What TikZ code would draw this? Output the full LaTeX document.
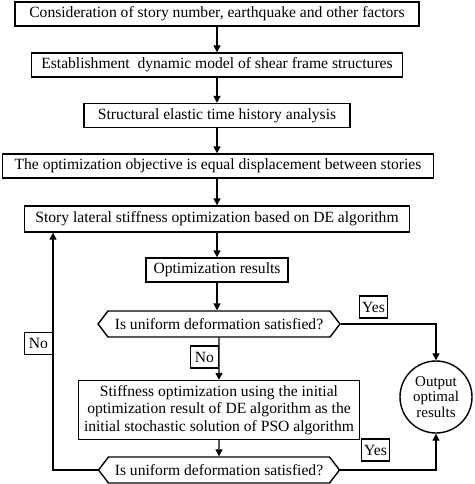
\documentclass[tikz,border=0pt]{standalone}
\usepackage{fontspec}
\setmainfont{Liberation Serif}
\usetikzlibrary{shapes.symbols,arrows.meta}

\begin{document}
\begin{tikzpicture}[x=1pt,y=-1pt,
  box/.style={draw,line width=1.4pt,inner sep=0pt,minimum height=24pt,
    font=\fontsize{15.6}{17.6}\selectfont},
  cond/.style={draw,line width=1.4pt,inner sep=0pt,shape=signal,
    signal to=west and east,signal pointer angle=105,minimum height=26pt,
    font=\fontsize{15.6}{17.6}\selectfont},
  tag/.style={draw,line width=1.4pt,inner sep=2pt,minimum width=28pt,minimum height=22pt,
    font=\fontsize{15.6}{15.6}\selectfont},
  arr/.style={line width=1.4pt,-{Triangle[length=7pt,width=7pt]}}]

\useasboundingbox (0,0) rectangle (474,484);

% main column
\node[box,minimum width=404pt] (cons) at (217,14) {Consideration of story number, earthquake and other factors};
\node[box,minimum width=371pt] (model) at (217,65) {Establishment\ \ dynamic model of shear frame structures};
\node[box,minimum width=266pt] (elastic) at (217,115.5) {Structural elastic time history analysis};
\node[box,minimum width=431pt] (objective) at (218,166) {The optimization objective is equal displacement between stories};
\node[box,minimum width=385pt,minimum height=26pt] (de) at (217,219) {Story lateral stiffness optimization based on DE algorithm};
\node[box,minimum width=142pt] (results) at (217,270) {Optimization results};
\node[cond,minimum width=242pt] (check1) at (219,324) {Is uniform deformation satisfied?};
\node[box,minimum width=281pt,minimum height=59pt,align=center] (pso) at (219,410)
  {Stiffness optimization using the initial\\optimization result of DE algorithm as the\\initial stochastic solution of PSO algorithm};
\node[cond,minimum width=241pt] (check2) at (219,470) {Is uniform deformation satisfied?};

% output
\node[draw,circle,line width=1.4pt,minimum size=72pt,inner sep=0pt,align=center,
  font=\fontsize{15}{15.5}\selectfont] (out) at (436,397) {Output\\optimal\\results};

% connectors
\draw[arr] (cons) -- (model);
\draw[arr] (model) -- (elastic);
\draw[arr] (elastic) -- (elastic |- objective.north);
\draw[arr] (objective.south -| de) -- (de);
\draw[arr] (de) -- (results);
\draw[arr] (results.south) -- (results.south |- check1.north);
\draw[arr] (check1) -- (pso);
\draw[arr] (pso) -- (check2);
\draw[arr] (check1.east) -| (out.north);
\draw[arr] (check2.east) -| (out.south);
\coordinate (loop) at (53,470);
\draw[arr] (check2.west) -- (loop) -- (loop |- de.south);

% labels
\node[tag,anchor=east] (no1) at (53,343.5) {No};
\node[tag,anchor=east] (no2) at (219,357) {No};
\node[tag] (yes1) at (373.5,307) {Yes};
\node[tag] (yes2) at (375.5,450) {Yes};
\end{tikzpicture}
\end{document}
